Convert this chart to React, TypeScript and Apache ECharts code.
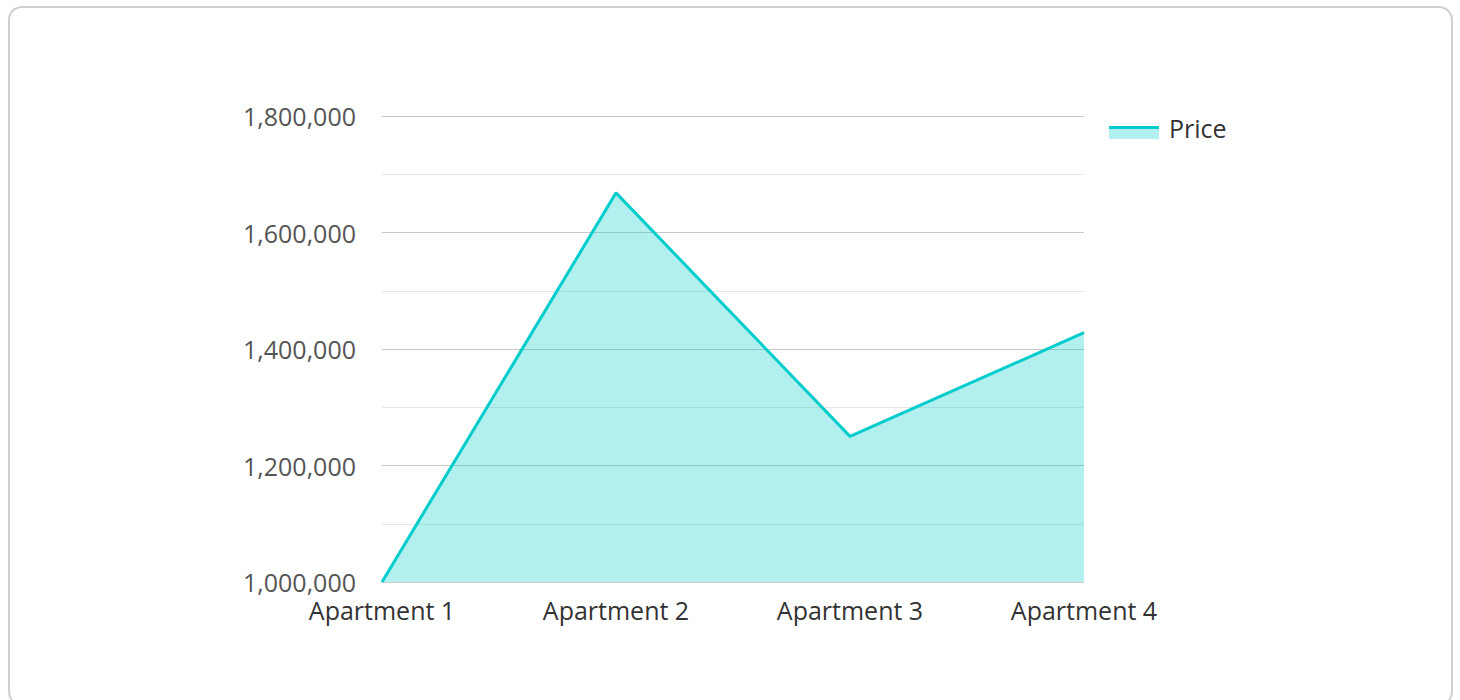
import React, { useEffect, useRef } from "react";
import * as echarts from "echarts";

const categories: string[] = ["Apartment 1", "Apartment 2", "Apartment 3", "Apartment 4"];
const priceValues: number[] = [1000000, 1668000, 1250000, 1428000];
const seriesName = "Price";
const yMin = 1000000;
const yMax = 1800000;
const yInterval = 200000;

const TEAL = "#00cccc";
const TEAL_LIGHT = "#b2f0ef";
const FONT = "'Open Sans', 'Noto Sans', sans-serif";
const FS = 25;
const LEGEND_ICON = "path://M0 0 L0.01 0 M0 26 L0.01 26 M0 11 L50 11 L50 24 L0 24 Z";

export default function App() {
  const ref = useRef<HTMLDivElement | null>(null);

  useEffect(() => {
    if (!ref.current) return;
    const chart = echarts.init(ref.current, undefined, { renderer: "svg" });
    chart.setOption({
      animation: false,
      textStyle: { fontFamily: FONT },
      grid: { left: 382, right: 376, top: 116, bottom: 118, containLabel: false },
      legend: {
        show: true,
        left: 1104,
        top: 110,
        itemWidth: 50,
        itemHeight: 26,
        icon: LEGEND_ICON,
        data: [
          {
            name: seriesName,
            itemStyle: {
              color: new echarts.graphic.LinearGradient(0, 0, 0, 1, [
                { offset: 0, color: TEAL },
                { offset: 0.535, color: TEAL },
                { offset: 0.535, color: TEAL_LIGHT },
                { offset: 1, color: TEAL_LIGHT },
              ]),
              borderWidth: 0,
            },
          },
        ],
        textStyle: { fontFamily: FONT, fontSize: FS, color: "#333", padding: [0, 0, 0, 5] },
      },
      xAxis: {
        type: "category",
        data: categories,
        boundaryGap: false,
        axisLine: { show: true, lineStyle: { color: "#cccccc", width: 1 } },
        axisTick: { show: false },
        axisLabel: { color: "#333", fontSize: FS, fontFamily: FONT, margin: 15 },
        splitLine: { show: false },
      },
      yAxis: {
        type: "value",
        min: yMin,
        max: yMax,
        interval: yInterval,
        axisLine: { show: false },
        axisTick: { show: false },
        axisLabel: {
          color: "#555",
          fontSize: FS,
          fontFamily: FONT,
          margin: 26,
          formatter: (v: number) => v.toLocaleString("en-US"),
        },
        splitLine: { show: true, lineStyle: { color: "#c8c8c8", width: 1 } },
        minorTick: { show: false, splitNumber: 2 },
        minorSplitLine: { show: true, lineStyle: { color: "#e6e6e6", width: 1 } },
      },
      series: [
        {
          name: seriesName,
          type: "line",
          data: priceValues,
          showSymbol: false,
          symbol: "none",
          lineStyle: { color: TEAL, width: 3 },
          itemStyle: { color: TEAL },
          areaStyle: { color: TEAL, opacity: 0.3 },
        },
      ],
    });
    return () => chart.dispose();
  }, []);

  return (
    <div style={{ position: "absolute", left: 0, top: 0, width: 1460, height: 700, overflow: "hidden", background: "#fff" }}>
      <div
        style={{
          position: "absolute",
          left: 8,
          top: 6,
          width: 1445,
          height: 700,
          boxSizing: "border-box",
          border: "2px solid #d0d0d0",
          borderRadius: 14,
        }}
      />
      <div ref={ref} style={{ position: "absolute", left: 0, top: 0, width: 1460, height: 700 }} />
    </div>
  );
}
